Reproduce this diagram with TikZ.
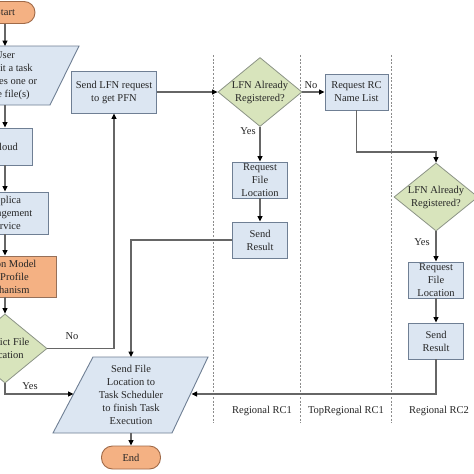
\documentclass[tikz,border=0pt]{standalone}
\usepackage{fontspec}
\setmainfont{Liberation Serif}
\usetikzlibrary{shapes.geometric,arrows.meta}
\definecolor{boxfill}{HTML}{DCE6F2}
\definecolor{boxline}{HTML}{6F7F94}
\definecolor{decfill}{HTML}{D8E4BC}
\definecolor{decline}{HTML}{8C9486}
\definecolor{orfill}{HTML}{F4B183}
\definecolor{orline}{HTML}{A06A48}
\definecolor{conn}{HTML}{666666}
\definecolor{sepc}{HTML}{8C8C8C}
\definecolor{txt}{HTML}{262626}
\tikzset{
  base/.style={font=\fontsize{10.5}{13}\selectfont, align=center, inner sep=0pt, text=txt},
  procbox/.style={base, rectangle, draw=boxline, fill=boxfill, line width=0.9pt},
  orbox/.style={base, rectangle, draw=orline!70!gray, fill=orfill, line width=0.9pt},
  decision/.style={base, diamond, inner sep=-8pt, draw=decline, fill=decfill, line width=0.8pt},
  pill/.style={base, rectangle, rounded corners=11pt, draw=orline, fill=orfill, line width=0.9pt},
  iofill/.style={draw=boxline, fill=boxfill, line width=0.9pt},
  link/.style={draw=conn, line width=1.1pt, -{Triangle[length=5.5pt,width=5pt,color=black]}},
  plainlink/.style={draw=conn, line width=1.1pt},
  lbl/.style={base},
  sepline/.style={draw=sepc, line width=0.8pt, dash pattern=on 2pt off 1.6pt},
}
\begin{document}
\begin{tikzpicture}[x=1pt,y=-1pt]
\useasboundingbox (0,0) rectangle (474,474);
\clip (0,0) rectangle (474,474);
\fill[white] (0,0) rectangle (474,474);

% separators
\draw[sepline] (213,55) -- (213,423);
\draw[sepline] (300,55) -- (300,423);
\draw[sepline] (391,55) -- (391,423);

% left column
\node[pill, minimum width=60pt, minimum height=22pt] (start) at (5,12.5) {Start};
\path[iofill] (-40,46) -- (79,46) -- (50,105) -- (-69,105) -- cycle;
\node[base] (user) at (5,75.5) {User\\submit a task\\includes one or\\more file(s)};
\coordinate (user-n) at (5,46);
\coordinate (user-s) at (5,105);
\node[procbox, minimum width=54pt, minimum height=37pt] (cloud) at (5,146.5) {Cloud};
\node[procbox, minimum width=86pt, minimum height=42pt] (replica) at (5,213) {Replica\\Management\\Service};
\node[orbox, minimum width=102pt, minimum height=41pt] (poisson) at (5,276.5) {Poisson Model\\File Profile\\Mechanism};
\node[decision, minimum width=84pt, minimum height=69pt] (predict) at (5,348.5) {Predict File\\Location};

% middle
\node[procbox, minimum width=85pt, minimum height=42pt] (sendlfn) at (114,92) {Send LFN request\\to get PFN};
\path[iofill] (93,357) -- (208,357) -- (172,433) -- (53,433) -- cycle;
\node[base] (sendloc) at (131,395) {Send File\\Location to\\Task Scheduler\\to finish Task\\Execution};
\coordinate (sendloc-n) at (131,357);
\coordinate (sendloc-s) at (131,433);
\coordinate (sendloc-w) at (73.5,394);
\coordinate (sendloc-e) at (191.5,394);
\node[pill, minimum width=59pt, minimum height=23pt] (end) at (131,457.5) {End};

% Regional RC1
\node[decision, minimum width=84pt, minimum height=69pt] (lfn1) at (260,92) {LFN Already\\Registered?};
\node[procbox, minimum width=55pt, minimum height=36pt] (reqf1) at (260,180) {Request\\File\\Location};
\node[procbox, minimum width=55pt, minimum height=36pt] (sendres1) at (260,240) {Send\\Result};

% TopRegional RC1
\node[procbox, minimum width=63pt, minimum height=36pt] (rcname) at (356.5,92) {Request RC\\Name List};

% Regional RC2
\node[decision, minimum width=84pt, minimum height=68pt] (lfn2) at (436,197) {LFN Already\\Registered?};
\node[procbox, minimum width=55pt, minimum height=36pt] (reqf2) at (436,280) {Request\\File\\Location};
\node[procbox, minimum width=55pt, minimum height=36pt] (sendres2) at (436,341) {Send\\Result};

% connectors
\draw[link] (start) -- (user-n);
\draw[link] (user-s) -- (cloud);
\draw[link] (cloud) -- (replica);
\draw[link] (replica) -- (poisson);
\draw[link] (poisson) -- (predict);
\draw[link] (predict.south) |- (sendloc-w);
\draw[link] (predict.east) -| (sendlfn.south);
\draw[link] (sendlfn) -- (lfn1);
\draw[link] (lfn1) -- (rcname);
\coordinate (bend1) at (356.5,152);
\draw[link] (rcname.south) -- (bend1) -| (lfn2.north);
\draw[link] (lfn1) -- (reqf1);
\draw[link] (reqf1) -- (sendres1);
\draw[link] (sendres1.west) -| (sendloc-n);
\draw[link] (lfn2) -- (reqf2);
\draw[link] (reqf2) -- (sendres2);
\draw[link] (sendres2.south) |- (sendloc-e);
\draw[link] (sendloc-s) -- (end);

% labels
\node[lbl] (yes0) at (30,386) {Yes};
\node[lbl] (no0) at (72,336) {No};
\node[lbl] (yes1) at (248,131) {Yes};
\node[lbl] (no1) at (311,85) {No};
\node[lbl] (yes2) at (422,242) {Yes};
\node[lbl] (reg1) at (262,411) {Regional RC1};
\node[lbl] (topreg1) at (346,411) {TopRegional RC1};
\node[lbl] (reg2) at (439,411) {Regional RC2};
\end{tikzpicture}
\end{document}
